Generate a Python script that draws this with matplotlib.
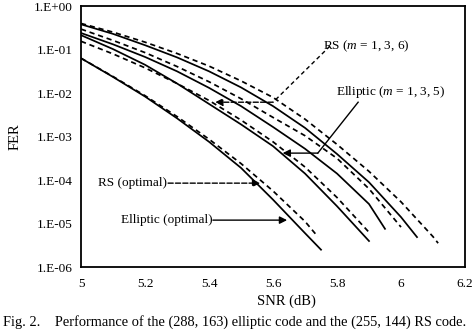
"""FER vs SNR for the (288, 163) elliptic code and the (255, 144) RS code."""

import matplotlib

matplotlib.use("Agg")

import matplotlib.pyplot as plt
import numpy as np

plt.rcParams["font.family"] = ["Liberation Serif", "DejaVu Serif"]
plt.rcParams["mathtext.fontset"] = "custom"
plt.rcParams["mathtext.it"] = "Liberation Serif:italic"
plt.rcParams["mathtext.rm"] = "Liberation Serif"

# SNR points (dB) and log10(FER)
snr_ell_opt = [5.0, 5.1, 5.2, 5.3, 5.4, 5.5, 5.6, 5.7, 5.75]
fer_ell_opt = [-1.20, -1.63, -2.08, -2.58, -3.12, -3.72, -4.45, -5.22, -5.60]

snr_rs_opt = [5.0, 5.1, 5.2, 5.3, 5.4, 5.5, 5.6, 5.7, 5.74]
fer_rs_opt = [-1.20, -1.62, -2.06, -2.54, -3.06, -3.62, -4.25, -4.95, -5.30]

snr_ell_m1 = [5.0, 5.1, 5.2, 5.3, 5.4, 5.5, 5.6, 5.7, 5.8, 5.9]
fer_ell_m1 = [-0.67, -0.99, -1.35, -1.78, -2.25, -2.72, -3.22, -3.85, -4.60, -5.40]

snr_rs_m1 = [5.0, 5.1, 5.2, 5.3, 5.4, 5.5, 5.6, 5.7, 5.8, 5.9]
fer_rs_m1 = [-0.81, -1.10, -1.42, -1.78, -2.17, -2.62, -3.12, -3.70, -4.40, -5.20]

snr_ell_m3 = [5.0, 5.1, 5.2, 5.3, 5.4, 5.5, 5.6, 5.7, 5.8, 5.9, 5.95]
fer_ell_m3 = [-0.62, -0.88, -1.17, -1.50, -1.88, -2.30, -2.78, -3.28, -3.85, -4.55, -5.12]

snr_rs_m3 = [5.0, 5.1, 5.2, 5.3, 5.4, 5.5, 5.6, 5.7, 5.8, 5.9, 6.0]
fer_rs_m3 = [-0.53, -0.79, -1.07, -1.39, -1.74, -2.13, -2.56, -2.98, -3.50, -4.20, -5.08]

snr_ell_m5 = [5.0, 5.1, 5.2, 5.3, 5.4, 5.5, 5.6, 5.7, 5.8, 5.9, 6.0, 6.05]
fer_ell_m5 = [-0.42, -0.64, -0.90, -1.18, -1.50, -1.87, -2.30, -2.80, -3.40, -4.05, -4.85, -5.31]

snr_rs_m6 = [5.0, 5.1, 5.2, 5.3, 5.4, 5.5, 5.6, 5.7, 5.8, 5.9, 6.0, 6.1, 6.116]
fer_rs_m6 = [-0.40, -0.60, -0.83, -1.09, -1.38, -1.72, -2.10, -2.60, -3.18, -3.80, -4.50, -5.30, -5.45]

x_ticks = [5, 5.2, 5.4, 5.6, 5.8, 6, 6.2]
x_tick_labels = ["5", "5.2", "5.4", "5.6", "5.8", "6", "6.2"]
y_ticks = [1e0, 1e-1, 1e-2, 1e-3, 1e-4, 1e-5, 1e-6]
y_tick_labels = ["1.E+00", "1.E-01", "1.E-02", "1.E-03", "1.E-04", "1.E-05", "1.E-06"]

fig = plt.figure(figsize=(4.74, 3.36), dpi=100)
ax = fig.add_axes([0.171, 0.205, 0.81, 0.777])

dash = (0, (3.0, 2.2))
lw = 1.25
curves = [
    (snr_ell_opt, fer_ell_opt, "-"),
    (snr_rs_opt, fer_rs_opt, dash),
    (snr_ell_m1, fer_ell_m1, "-"),
    (snr_rs_m1, fer_rs_m1, dash),
    (snr_ell_m3, fer_ell_m3, "-"),
    (snr_rs_m3, fer_rs_m3, dash),
    (snr_ell_m5, fer_ell_m5, "-"),
    (snr_rs_m6, fer_rs_m6, dash),
]
for xs, ys, ls in curves:
    ax.plot(xs, np.power(10.0, ys), color="black", linestyle=ls, linewidth=lw)

ax.set_yscale("log")
ax.set_xlim(5, 6.2)
ax.set_ylim(1e-6, 1)
ax.set_xticks(x_ticks)
ax.set_xticklabels(x_tick_labels)
ax.set_yticks(y_ticks)
ax.set_yticklabels(y_tick_labels)
ax.minorticks_off()
ax.tick_params(length=0, labelsize=9.5)
ax.tick_params(axis="y", pad=6)
ax.tick_params(axis="x", pad=8)
for spine in ax.spines.values():
    spine.set_linewidth(1.3)

ax.set_xlabel("SNR (dB)", fontsize=10.5, labelpad=5)
ax.xaxis.set_label_coords(0.535, -0.105)
ax.set_ylabel("FER", fontsize=10.5, labelpad=9)

arrow = dict(arrowstyle="-|>", color="black", lw=1.0, mutation_scale=11,
             shrinkA=0, shrinkB=0)

# RS (m = 1, 3, 6)
ax.text(5.757, 10 ** -0.92, r"RS ($m$ = 1, 3, 6)", fontsize=9.5,
        ha="left", va="center")
ax.plot([5.778, 5.6], [10 ** -0.92, 10 ** -2.21], color="black",
        linestyle=dash, linewidth=1.0)
ax.annotate("", xy=(5.419, 10 ** -2.21), xytext=(5.6, 10 ** -2.21),
            arrowprops=dict(arrow, linestyle="--"))

# Elliptic (m = 1, 3, 5)
ax.text(5.797, 10 ** -1.98, r"Elliptic ($m$ = 1, 3, 5)", fontsize=9.5,
        ha="left", va="center")
ax.plot([5.866, 5.74], [10 ** -2.21, 10 ** -3.38], color="black", linewidth=1.0)
ax.annotate("", xy=(5.63, 10 ** -3.38), xytext=(5.74, 10 ** -3.38),
            arrowprops=arrow)

# RS (optimal)
ax.text(5.27, 10 ** -4.07, "RS (optimal)", fontsize=9.5, ha="right",
        va="center")
ax.annotate("", xy=(5.56, 10 ** -4.07), xytext=(5.272, 10 ** -4.07),
            arrowprops=dict(arrow, linestyle="--"))

# Elliptic (optimal)
ax.text(5.41, 10 ** -4.92, "Elliptic (optimal)", fontsize=9.5, ha="right",
        va="center")
ax.annotate("", xy=(5.644, 10 ** -4.92), xytext=(5.412, 10 ** -4.92),
            arrowprops=arrow)

fig.text(0.006, 0.022, "Fig. 2.    Performance of the (288, 163) elliptic code and "
         "the (255, 144) RS code.", fontsize=10.4, ha="left", va="bottom")

fig.savefig("out.png", dpi=100)
